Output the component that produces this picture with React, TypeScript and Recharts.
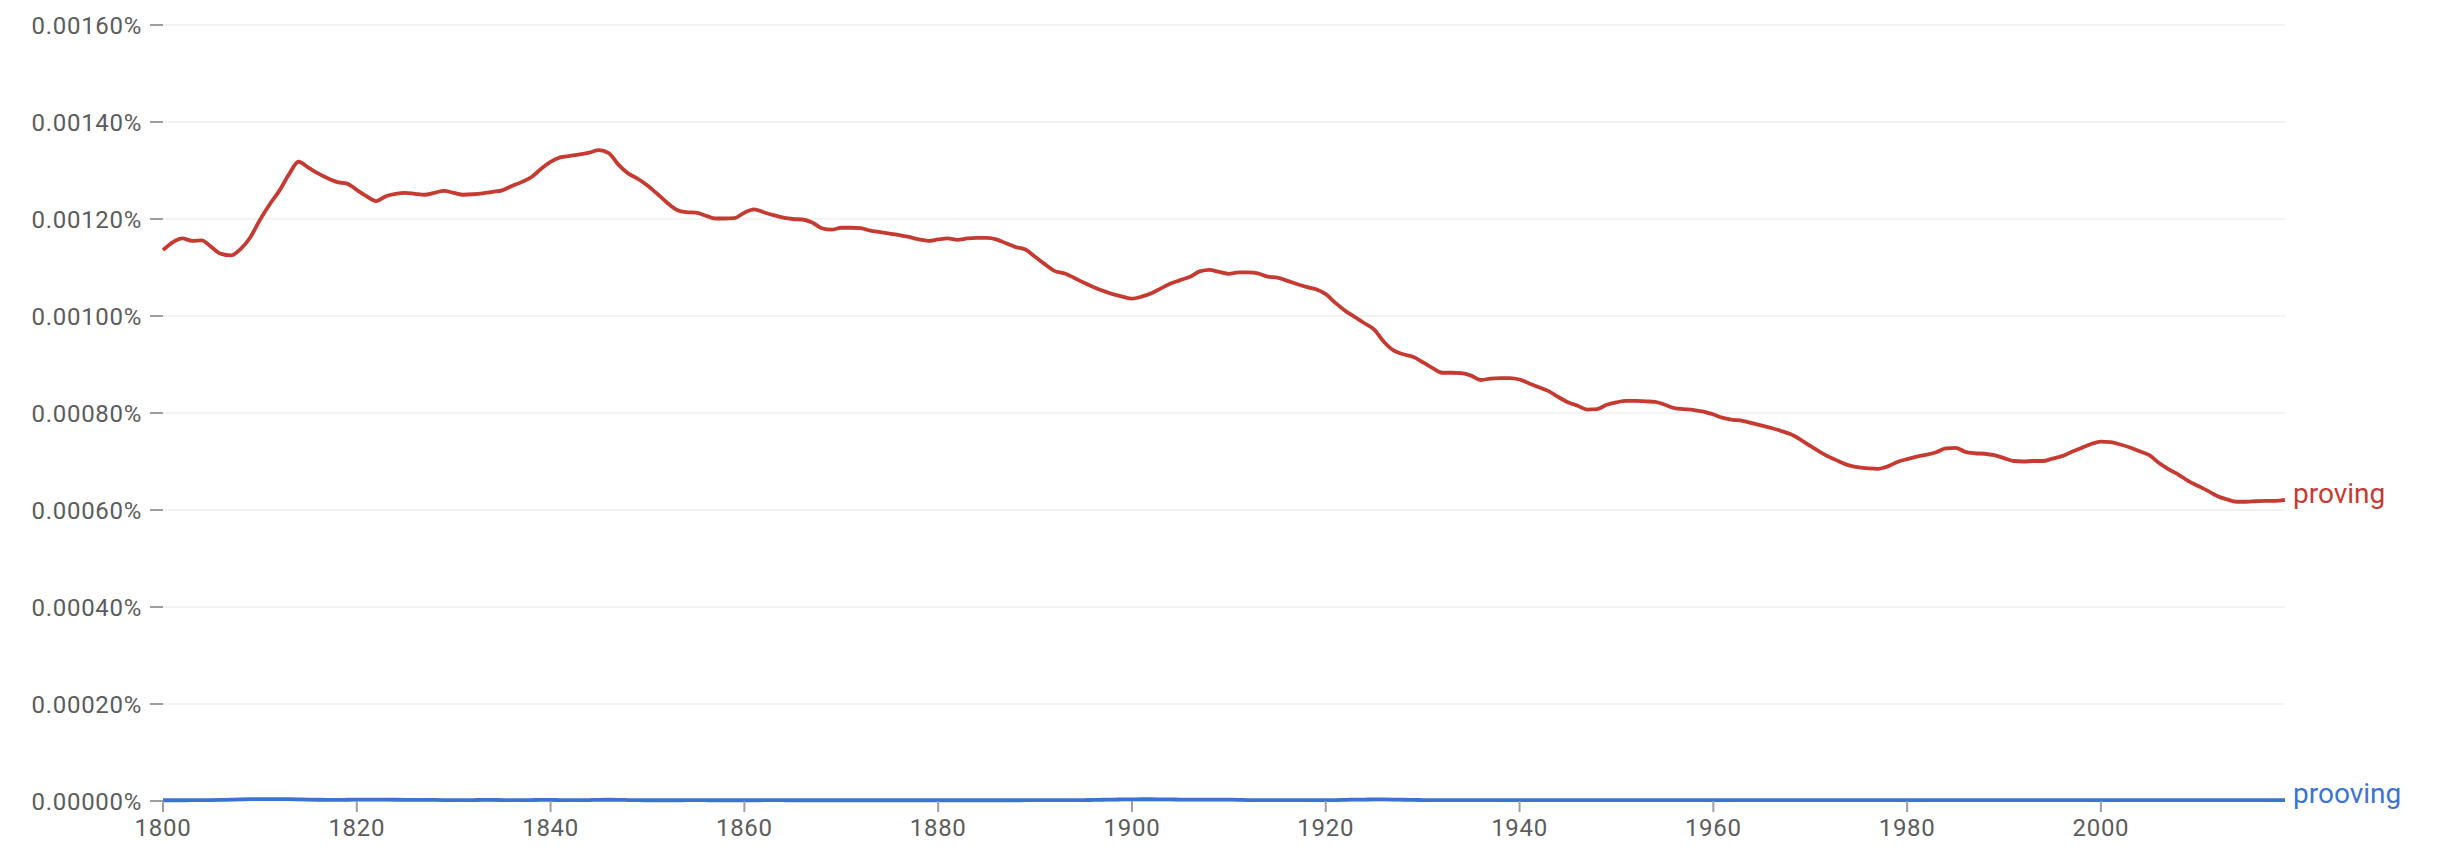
import { CartesianGrid, Line, LineChart, XAxis, YAxis } from "recharts"

const years = Array.from({ length: 220 }, (_, i) => 1800 + i)

const provingValues = [
  0.001136, 0.001152, 0.00116, 0.001155, 0.001156, 0.001142, 0.001128, 0.001125, 0.001138, 0.001162,
  0.001198, 0.00123, 0.001258, 0.001292, 0.001318, 0.001306, 0.001294, 0.001284, 0.001276, 0.001273,
  0.00126, 0.001247, 0.001237, 0.001247, 0.001252, 0.001254, 0.001252, 0.00125, 0.001254, 0.001258,
  0.001254, 0.00125, 0.001251, 0.001253, 0.001256, 0.001259, 0.001268, 0.001276, 0.001286, 0.001303,
  0.001318, 0.001327, 0.00133, 0.001333, 0.001337, 0.001342, 0.001336, 0.001312, 0.001294, 0.001283,
  0.001269, 0.001252, 0.001234, 0.001219, 0.001214, 0.001213, 0.001207, 0.001201, 0.001201, 0.001202,
  0.001213, 0.00122, 0.001214, 0.001208, 0.001203, 0.0012, 0.001199, 0.001193, 0.001181, 0.001178,
  0.001182, 0.001182, 0.001181, 0.001176, 0.001173, 0.00117, 0.001167, 0.001163, 0.001158, 0.001155,
  0.001158, 0.00116, 0.001157, 0.00116, 0.001161, 0.001161, 0.001158, 0.00115, 0.001142, 0.001137,
  0.001122, 0.001107, 0.001093, 0.001088, 0.001079, 0.001069, 0.00106, 0.001052, 0.001045, 0.00104,
  0.001036, 0.00104, 0.001047, 0.001057, 0.001067, 0.001074, 0.001081, 0.001092, 0.001095, 0.001091,
  0.001087, 0.00109, 0.00109, 0.001088, 0.001081, 0.001079, 0.001073, 0.001066, 0.00106, 0.001055,
  0.001045, 0.001027, 0.001011, 0.000998, 0.000985, 0.000972, 0.000947, 0.000929, 0.000921, 0.000916,
  0.000905, 0.000893, 0.000883, 0.000883, 0.000882, 0.000877, 0.000868, 0.000871, 0.000872, 0.000872,
  0.000869, 0.000861, 0.000853, 0.000845, 0.000833, 0.000822, 0.000815, 0.000807, 0.000808, 0.000817,
  0.000822, 0.000825, 0.000825, 0.000824, 0.000823, 0.000817, 0.00081, 0.000808, 0.000806, 0.000803,
  0.000797, 0.00079, 0.000786, 0.000784, 0.000779, 0.000774, 0.000769, 0.000763, 0.000756, 0.000745,
  0.000732, 0.00072, 0.000709, 0.0007, 0.000692, 0.000688, 0.000686, 0.000685, 0.00069, 0.000699,
  0.000705, 0.00071, 0.000714, 0.000719, 0.000727, 0.000728, 0.00072, 0.000717, 0.000716, 0.000713,
  0.000707, 0.000701, 0.0007, 0.000701, 0.000701, 0.000706, 0.000711, 0.00072, 0.000728, 0.000736,
  0.000741, 0.00074, 0.000735, 0.000729, 0.000721, 0.000713, 0.000697, 0.000684, 0.000673, 0.00066,
  0.00065, 0.00064, 0.000629, 0.000622, 0.000617, 0.000617, 0.000618, 0.000619, 0.000619, 0.000621,
]

const proovingValues = [
  0.0000015, 0.0000015, 0.0000015, 0.0000016, 0.0000016, 0.0000018, 0.0000022, 0.0000028, 0.0000034, 0.0000038,
  0.000004, 0.000004, 0.000004, 0.0000038, 0.0000035, 0.000003, 0.0000026, 0.0000024, 0.0000024, 0.0000026,
  0.0000028, 0.000003, 0.000003, 0.0000028, 0.0000026, 0.0000025, 0.0000025, 0.0000024, 0.0000022, 0.000002,
  0.0000018, 0.0000018, 0.000002, 0.0000022, 0.0000022, 0.000002, 0.0000018, 0.0000018, 0.000002, 0.0000022,
  0.0000022, 0.000002, 0.0000018, 0.0000018, 0.000002, 0.0000024, 0.0000026, 0.0000024, 0.000002, 0.0000016,
  0.0000015, 0.0000015, 0.0000015, 0.0000015, 0.0000016, 0.0000016, 0.0000016, 0.0000015, 0.0000015, 0.0000015,
  0.0000015, 0.0000015, 0.0000016, 0.0000016, 0.0000016, 0.0000015, 0.0000015, 0.0000015, 0.0000015, 0.0000015,
  0.0000015, 0.0000015, 0.0000015, 0.0000015, 0.0000015, 0.0000015, 0.0000015, 0.0000015, 0.0000015, 0.0000015,
  0.0000015, 0.0000015, 0.0000015, 0.0000015, 0.0000015, 0.0000015, 0.0000015, 0.0000015, 0.0000015, 0.0000016,
  0.0000018, 0.000002, 0.000002, 0.000002, 0.0000018, 0.0000018, 0.0000022, 0.0000026, 0.000003, 0.0000032,
  0.0000034, 0.0000036, 0.0000036, 0.0000034, 0.0000032, 0.000003, 0.0000028, 0.0000028, 0.000003, 0.000003,
  0.0000028, 0.0000024, 0.000002, 0.0000018, 0.0000016, 0.0000016, 0.0000016, 0.0000016, 0.0000016, 0.0000016,
  0.0000018, 0.000002, 0.0000024, 0.0000028, 0.000003, 0.0000032, 0.0000032, 0.000003, 0.0000026, 0.0000022,
  0.000002, 0.0000018, 0.0000016, 0.0000016, 0.0000016, 0.0000016, 0.0000016, 0.0000016, 0.0000016, 0.0000016,
  0.0000016, 0.0000016, 0.0000016, 0.0000016, 0.0000016, 0.0000016, 0.0000016, 0.0000016, 0.0000016, 0.0000016,
  0.0000016, 0.0000016, 0.0000016, 0.0000016, 0.0000016, 0.0000016, 0.0000016, 0.0000016, 0.0000016, 0.0000016,
  0.0000016, 0.0000016, 0.0000016, 0.0000016, 0.0000016, 0.0000016, 0.0000016, 0.0000016, 0.0000016, 0.0000016,
  0.0000016, 0.0000016, 0.0000016, 0.0000016, 0.0000016, 0.0000016, 0.0000016, 0.0000016, 0.0000016, 0.0000016,
  0.0000016, 0.0000016, 0.0000016, 0.0000016, 0.0000016, 0.0000016, 0.0000016, 0.0000016, 0.0000016, 0.0000016,
  0.0000016, 0.0000016, 0.0000016, 0.0000016, 0.0000016, 0.0000016, 0.0000016, 0.0000016, 0.0000016, 0.0000016,
  0.0000016, 0.0000016, 0.0000016, 0.0000016, 0.0000016, 0.0000016, 0.0000016, 0.0000016, 0.0000016, 0.0000016,
  0.0000016, 0.0000016, 0.0000016, 0.0000016, 0.0000016, 0.0000016, 0.0000016, 0.0000016, 0.0000016, 0.0000016,
]

const yTicks = [0, 0.0002, 0.0004, 0.0006, 0.0008, 0.001, 0.0012, 0.0014, 0.0016]
const xTicks = [1800, 1820, 1840, 1860, 1880, 1900, 1920, 1940, 1960, 1980, 2000]

const series = [
  { key: "prooving", values: proovingValues, color: "#3b74d0" },
  { key: "proving", values: provingValues, color: "#c53b32" },
]

const data = years.map((year, i) => ({
  year,
  proving: provingValues[i],
  prooving: proovingValues[i],
}))

const lastIndex = data.length - 1
const tickStyle = { fill: "#5c5c5c", fontSize: 24, fontFamily: "Roboto", letterSpacing: 0.7 }

function endLabel(name: string, color: string) {
  return (props: any) => {
    if (props.index !== lastIndex) return null
    return (
      <text x={props.x + 8} y={props.y + 3} fill={color} fontSize={28} fontFamily="Roboto">
        {name}
      </text>
    )
  }
}

export default function App() {
  return (
    <div style={{ width: 2420, height: 840, fontFamily: "Roboto" }}>
      <LineChart width={2420} height={840} data={data} margin={{ top: 17, right: 143, bottom: 7, left: 0 }}>
        <CartesianGrid horizontal vertical={false} stroke="#efefef" strokeWidth={1.5} />
        <XAxis
          dataKey="year"
          type="number"
          domain={[1800, 2019]}
          ticks={xTicks}
          interval={0}
          height={40}
          tick={tickStyle}
          tickSize={11}
          tickMargin={7}
          tickLine={{ stroke: "#9e9e9e", strokeWidth: 2 }}
          axisLine={false}
        />
        <YAxis
          domain={[0, 0.0016]}
          ticks={yTicks}
          interval={0}
          width={155}
          tick={tickStyle}
          tickSize={13}
          tickMargin={8}
          tickLine={{ stroke: "#9e9e9e", strokeWidth: 2 }}
          axisLine={false}
          tickFormatter={(v: number) => v.toFixed(5) + "%"}
        />
        {series.map((s) => (
          <Line
            key={s.key}
            type="monotone"
            dataKey={s.key}
            stroke={s.color}
            strokeWidth={3.8}
            dot={false}
            activeDot={false}
            isAnimationActive={false}
            label={endLabel(s.key, s.color)}
          />
        ))}
      </LineChart>
    </div>
  )
}
